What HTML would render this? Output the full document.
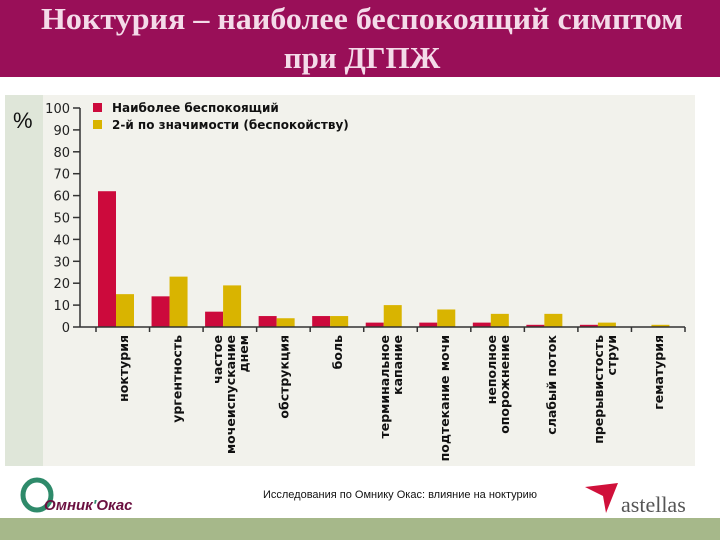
<!DOCTYPE html>
<html><head><meta charset="utf-8"><style>
body{margin:0;width:720px;height:540px;overflow:hidden;background:#fff;font-family:"Liberation Sans",sans-serif}
svg{display:block}
</style></head><body>
<svg width="720" height="540">
<rect x="0" y="0" width="720" height="77" fill="#990f58"/>
<text x="362" y="29" text-anchor="middle" font-family="Liberation Serif,serif" font-weight="bold" font-size="31" textLength="642" lengthAdjust="spacingAndGlyphs" fill="#f4dbe9">Ноктурия – наиболее беспокоящий симптом</text>
<text x="362" y="68" text-anchor="middle" font-family="Liberation Serif,serif" font-weight="bold" font-size="31" fill="#f4dbe9">при ДГПЖ</text>
<rect x="5" y="95" width="690" height="371" fill="#f2f2ec"/>
<rect x="5" y="95" width="38" height="371" fill="#dfe6d9"/>
<text x="13" y="128" font-size="22" fill="#111">%</text>
<g id="chart"></g>
<g>
<ellipse cx="37" cy="495" rx="14" ry="15" fill="none" stroke="#2e8a6a" stroke-width="5"/>
<text x="44" y="510" font-size="15" font-weight="bold" font-style="italic" fill="#6b1040">Омник<tspan fill="#2e8a6a">'</tspan>Окас</text>
</g>
<text x="400" y="498" text-anchor="middle" font-size="11" fill="#111">Исследования по Омнику Окас: влияние на ноктурию</text>
<g>
<polygon points="585,487 618,483 606,513 603,496" fill="#d0103a"/>
<text x="621" y="512" font-family="Liberation Serif,serif" font-size="22" fill="#555">astellas</text>
</g>
<rect x="0" y="518" width="720" height="22" fill="#a6b88a"/>
</svg>
<script>
const categories=[["ноктурия"],["ургентность"],["частое","мочеиспускание","днем"],["обструкция"],["боль"],["терминальное","капание"],["подтекание мочи"],["неполное","опорожнение"],["слабый поток"],["прерывистость","струи"],["гематурия"]];
const mostBothersome=[62,14,7,5,5,2,2,2,1,1,0];
const secondBothersome=[15,23,19,4,5,10,8,6,6,2,1];
const yTicks=[0,10,20,30,40,50,60,70,80,90,100];
const legendLabels=["Наиболее беспокоящий","2-й по значимости (беспокойству)"];
const NS="http://www.w3.org/2000/svg";
const g=document.getElementById('chart');
const x0=80,x1=685,yBase=327,yTop=108;
const bw=(x1-96)/categories.length;
function y(v){return yBase-(v/100)*(yBase-yTop);}
function xc(i){return 96+i*bw;}
function mk(t,a){const e=document.createElementNS(NS,t);for(const k in a)e.setAttribute(k,a[k]);g.appendChild(e);return e;}
yTicks.forEach(v=>{
 const l=mk('line',{x1:73,x2:x0,y1:y(v),y2:y(v),stroke:'#333','stroke-width':1.5});
 
 
 const t=mk('text',{x:70,y:y(v)+5,'text-anchor':'end','font-family':'DejaVu Sans,sans-serif','font-size':13,fill:'#222'});
 t.textContent=v;
 
 
});
const ax=mk('line',{x1:x0,x2:x0,y1:yTop,y2:yBase,stroke:'#333','stroke-width':1.5});


categories.forEach((c,i)=>{
 const r=mk('rect',{x:xc(i)+2,y:y(mostBothersome[i]),width:18,height:yBase-y(mostBothersome[i]),fill:'#cc0a3c'});
 
 
 const s=mk('rect',{x:xc(i)+20,y:y(secondBothersome[i]),width:18,height:yBase-y(secondBothersome[i]),fill:'#d9b400'});
 
 
 const cx=xc(i)+bw/2, n=c.length;
 c.forEach((line,j)=>{
  const lx=cx+(j-(n-1)/2)*13+5;
  const t=mk('text',{x:lx,y:335,transform:`rotate(-90 ${lx} 335)`,'text-anchor':'end','font-family':'DejaVu Sans,sans-serif','font-size':12.5,'font-weight':'bold',fill:'#111'});
  t.textContent=line;
  
  
 });
});
const xa=mk('line',{x1:x0,x2:x1,y1:yBase,y2:yBase,stroke:'#333','stroke-width':1.5});


for(let i=0;i<=categories.length;i++){
 const t=mk('line',{x1:xc(i),x2:xc(i),y1:yBase,y2:yBase+5,stroke:'#333','stroke-width':1.5});
 
 
}
const cols=['#cc0a3c','#d9b400'];
legendLabels.forEach((l,i)=>{
 const r=mk('rect',{x:93,y:103+i*17,width:9,height:9,fill:cols[i]});
 
 
 const t=mk('text',{x:112,y:112+i*17,'font-family':'DejaVu Sans,sans-serif','font-size':12,'font-weight':'bold',fill:'#111'});
 t.textContent=l;
 
 
});
</script>
</body></html>
